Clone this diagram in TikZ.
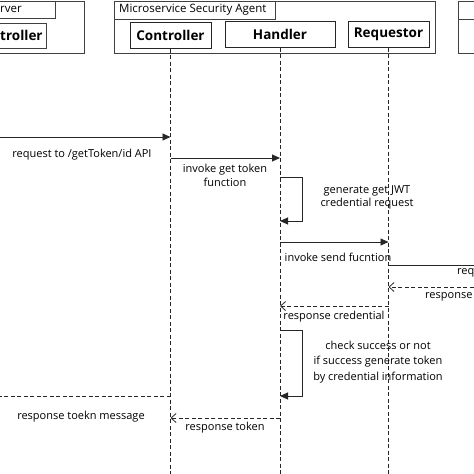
\documentclass[tikz,border=0pt]{standalone}
\usepackage{fontspec}
\setmainfont{Open Sans}
\usetikzlibrary{arrows.meta, positioning, calc}

\begin{document}
\begin{tikzpicture}[x=1pt,y=-1pt,
    font=\fontsize{11}{14.5}\selectfont,
    frame/.style={draw=black!75, line width=0.8pt},
    party/.style={draw=black!85, line width=1pt, minimum height=26pt, inner sep=0pt,
        font=\fontsize{13.5}{14}\selectfont\bfseries},
    life/.style={draw=black!85, line width=0.8pt, dash pattern=on 4pt off 2.5pt},
    call/.style={draw=black!85, line width=0.9pt, -{Triangle[length=8pt,width=7pt]}},
    reply/.style={draw=black!85, line width=0.8pt, dash pattern=on 4pt off 2.5pt,
        -{Straight Barb[length=5pt,width=9pt]}},
    note/.style={align=center, inner sep=1pt}]
\useasboundingbox (0,0) rectangle (474,474);

\draw[frame] (-10,1) rectangle (84,53);
\draw[frame] (-10,1) rectangle (55,18);
\node[anchor=west, inner sep=0pt, font=\fontsize{11.5}{12}\selectfont] (srv) at (0,9.5) {rver};
\draw[frame, line width=1pt] (-10,23) rectangle (46,48);
\node[anchor=west, inner sep=0pt, font=\fontsize{13.5}{14}\selectfont\bfseries] (sctrl) at (0,35.5) {troller};

\draw[frame] (114,1) rectangle (435,53);
\node[anchor=west, inner sep=0pt, font=\fontsize{11.5}{12}\selectfont] (agent) at (119,10) {Microservice Security Agent};
\draw[frame] (114,1) rectangle (275,19);

\draw[frame] (458,1) rectangle (490,53);
\draw[frame] (458,19) -- (490,19);

\node[party, minimum width=81pt] (ctrl) at (170.5,35) {Controller};
\node[party, minimum width=110pt] (hdl) at (280,34) {Handler};
\node[party, minimum width=81pt] (req) at (388.5,34) {Requestor};

\coordinate (bottom) at (0,474);
\draw[life] (ctrl) -- (ctrl |- bottom);
\draw[life] (hdl) -- (hdl |- bottom);
\draw[life] (req) -- (req |- bottom);

\coordinate (y1) at (0,137);
\coordinate (y2) at (0,158);
\coordinate (y3) at (0,177);
\coordinate (y4) at (0,242);
\coordinate (y5) at (480,265);
\coordinate (y6) at (480,287);
\coordinate (y7) at (0,306);
\coordinate (y8) at (0,330);
\coordinate (y9) at (0,396);
\coordinate (y10) at (0,418);

\draw[call] (y1) -- (y1 -| ctrl);
\draw[call] (y2 -| ctrl) -- (y2 -| hdl);
\draw[call] (y3 -| hdl) -- ++(22,0) -- ++(0,44) -- ++(-22,0);
\draw[call] (y4 -| hdl) -- (y4 -| req);
\draw[call, -] (y5 -| req) -- (y5);
\draw[reply] (y6) -- (y6 -| req);
\draw[reply] (y7 -| req) -- (y7 -| hdl);
\draw[call] (y8 -| hdl) -- ++(22,0) -- ++(0,66) -- ++(-22,0);
\draw[reply, -] (y9 -| ctrl) -- (y9);
\draw[reply] (y10 -| hdl) -- (y10 -| ctrl);

\node[note] (lb1) at (82,155) {request to /getToken/id API};
\node[note] (lb2) at (225,175.5) {invoke get token\\function};
\node[note, font=\fontsize{11}{13}\selectfont] (lb3) at (367,197.5) {generate get JWT\\credential request};
\node[note] (lb4) at (338,257) {invoke send fucntion};
\node[note, anchor=west] (lb5) at (456,273) {req};
\node[note, anchor=west] (lb6) at (424,297) {response};
\node[note] (lb7) at (334,317) {response credential};
\node[note, font=\fontsize{11}{15.5}\selectfont] (lb8) at (378,362) {check success or not\\if success generate token\\by credential information};
\node[note] (lb9) at (81,417) {response toekn message};
\node[note] (lb10) at (225,428) {response token};
\end{tikzpicture}
\end{document}
